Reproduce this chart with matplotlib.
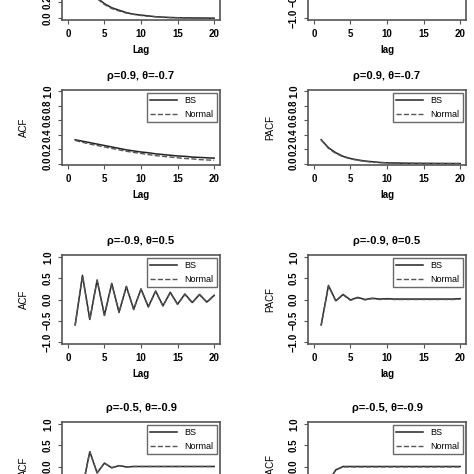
import matplotlib
matplotlib.use('Agg')
import matplotlib.pyplot as plt

plt.rcParams['font.family'] = ['Liberation Sans', 'DejaVu Sans']
plt.rcParams['font.weight'] = 'bold'

lags = list(range(1, 21))

# row 1 (top, cropped)
acf1_bs = [0.62, 0.45, 0.33, 0.25, 0.18, 0.13, 0.10, 0.07, 0.05, 0.04, 0.03, 0.02, 0.015, 0.01, 0.008, 0.006, 0.005, 0.004, 0.003, 0.002]
acf1_nm = [0.60, 0.43, 0.32, 0.24, 0.17, 0.12, 0.09, 0.065, 0.05, 0.035, 0.025, 0.02, 0.012, 0.01, 0.007, 0.005, 0.004, 0.003, 0.002, 0.001]
pacf1_bs = [0.62, 0.05, 0.02, 0.01, 0.0, 0.0, 0.0, 0.0, 0.0, 0.0, 0.0, 0.0, 0.0, 0.0, 0.0, 0.0, 0.0, 0.0, 0.0, 0.0]
pacf1_nm = pacf1_bs

# row 2: rho=0.9, theta=-0.7
acf2_bs = [0.33, 0.31, 0.29, 0.27, 0.25, 0.23, 0.21, 0.19, 0.175, 0.16, 0.15, 0.135, 0.125, 0.115, 0.105, 0.1, 0.09, 0.085, 0.08, 0.075]
acf2_nm = [0.32, 0.295, 0.27, 0.25, 0.23, 0.21, 0.19, 0.17, 0.155, 0.14, 0.125, 0.11, 0.1, 0.09, 0.08, 0.07, 0.065, 0.055, 0.05, 0.045]
pacf2_bs = [0.33, 0.22, 0.15, 0.10, 0.07, 0.05, 0.035, 0.025, 0.015, 0.01, 0.008, 0.005, 0.004, 0.003, 0.002, 0.002, 0.001, 0.001, 0.0, 0.0]
pacf2_nm = [0.33, 0.21, 0.14, 0.095, 0.065, 0.045, 0.03, 0.02, 0.015, 0.01, 0.007, 0.005, 0.004, 0.003, 0.002, 0.001, 0.001, 0.0, 0.0, 0.0]

# row 3: rho=-0.9, theta=0.5
acf3_bs = [-0.6, 0.57, -0.47, 0.46, -0.37, 0.38, -0.3, 0.31, -0.23, 0.25, -0.17, 0.2, -0.15, 0.17, -0.11, 0.13, -0.07, 0.12, -0.06, 0.1]
acf3_nm = [-0.61, 0.56, -0.48, 0.45, -0.38, 0.37, -0.31, 0.3, -0.24, 0.24, -0.18, 0.19, -0.15, 0.16, -0.12, 0.12, -0.08, 0.11, -0.07, 0.09]
pacf3_bs = [-0.6, 0.33, -0.03, 0.12, -0.01, 0.05, 0.0, 0.03, 0.01, 0.02, 0.01, 0.01, 0.01, 0.01, 0.01, 0.01, 0.01, 0.01, 0.01, 0.02]
pacf3_nm = [-0.61, 0.32, -0.04, 0.11, -0.02, 0.04, -0.01, 0.02, 0.0, 0.01, 0.0, 0.0, 0.0, 0.0, 0.0, 0.0, 0.0, 0.0, 0.0, 0.01]

# row 4 (bottom, cropped): rho=-0.5, theta=-0.9
acf4_bs = [-0.7, -0.5, 0.35, -0.15, 0.08, -0.03, 0.02, -0.01, 0.0, 0.0, 0.0, 0.0, 0.0, 0.0, 0.0, 0.0, 0.0, 0.0, 0.0, 0.0]
acf4_nm = acf4_bs
pacf4_bs = [-0.7, -0.35, -0.08, 0.0, 0.0, 0.0, 0.0, 0.0, 0.0, 0.0, 0.0, 0.0, 0.0, 0.0, 0.0, 0.0, 0.0, 0.0, 0.0, 0.0]
pacf4_nm = [-0.7, -0.35, -0.08, -0.01, -0.01, -0.01, -0.01, -0.01, -0.01, -0.01, -0.01, -0.01, -0.01, -0.01, -0.01, -0.01, -0.01, -0.01, -0.01, -0.01]

titles = [None, 'ρ=0.9, θ=-0.7', 'ρ=-0.9, θ=0.5', 'ρ=-0.5, θ=-0.9']
acf_data = [(acf1_bs, acf1_nm), (acf2_bs, acf2_nm), (acf3_bs, acf3_nm), (acf4_bs, acf4_nm)]
pacf_data = [(pacf1_bs, pacf1_nm), (pacf2_bs, pacf2_nm), (pacf3_bs, pacf3_nm), (pacf4_bs, pacf4_nm)]

# (top, bottom) pixel rows of each plot box, figure is 474 px tall
rows_px = [(-65, 20), (90, 165), (255, 344), (422, 511)]
left_px = (62, 220)
right_px = (308, 466)

W = H = 474
fig = plt.figure(figsize=(4.74, 4.74), dpi=100)


def panel(xpx, ypx, bs, nm, title, ylabel, xlabel, ylim):
    ax = fig.add_axes([xpx[0] / W, 1 - ypx[1] / H, (xpx[1] - xpx[0]) / W, (ypx[1] - ypx[0]) / H])
    ax.plot(lags, bs, color='#222222', lw=1.1, label='BS')
    ax.plot(lags, nm, color='#555555', lw=1.0, ls='--', label='Normal')
    ax.set_xlim(-0.8, 20.8)
    ax.set_ylim(*ylim)
    ax.set_xticks([0, 5, 10, 15, 20])
    if ylim[0] < -0.5:
        ax.set_yticks([-1.0, -0.5, 0.0, 0.5, 1.0])
    else:
        ax.set_yticks([0.0, 0.2, 0.4, 0.6, 0.8, 1.0])
    ax.tick_params(labelsize=7, color='#555555', length=3)
    for lab in ax.get_yticklabels():
        lab.set_rotation(90)
        lab.set_va('center')
    for s in ax.spines.values():
        s.set_color('#555555')
        s.set_linewidth(1.2)
    ax.set_xlabel(xlabel, fontsize=7, fontweight='bold')
    ax.set_ylabel(ylabel, fontsize=7, fontweight='normal', labelpad=10)
    if title:
        ax.set_title(title, fontsize=8, fontweight='bold', pad=8)
    ax.legend(loc='upper right', prop={'size': 6.5, 'weight': 'normal'}, frameon=True, fancybox=False,
              edgecolor='#444444', handlelength=3, borderaxespad=0.3)
    return ax


for i in range(4):
    yl_acf = (-0.02, 1.02) if i in (0, 1) else (-1.05, 1.05)
    yl_pacf = (-1.05, 1.05) if i in (0, 2, 3) else (-0.02, 1.02)
    panel(left_px, rows_px[i], acf_data[i][0], acf_data[i][1], titles[i], 'ACF', 'Lag', yl_acf)
    panel(right_px, rows_px[i], pacf_data[i][0], pacf_data[i][1], titles[i], 'PACF', 'lag', yl_pacf)

fig.savefig('out.png', dpi=100)
